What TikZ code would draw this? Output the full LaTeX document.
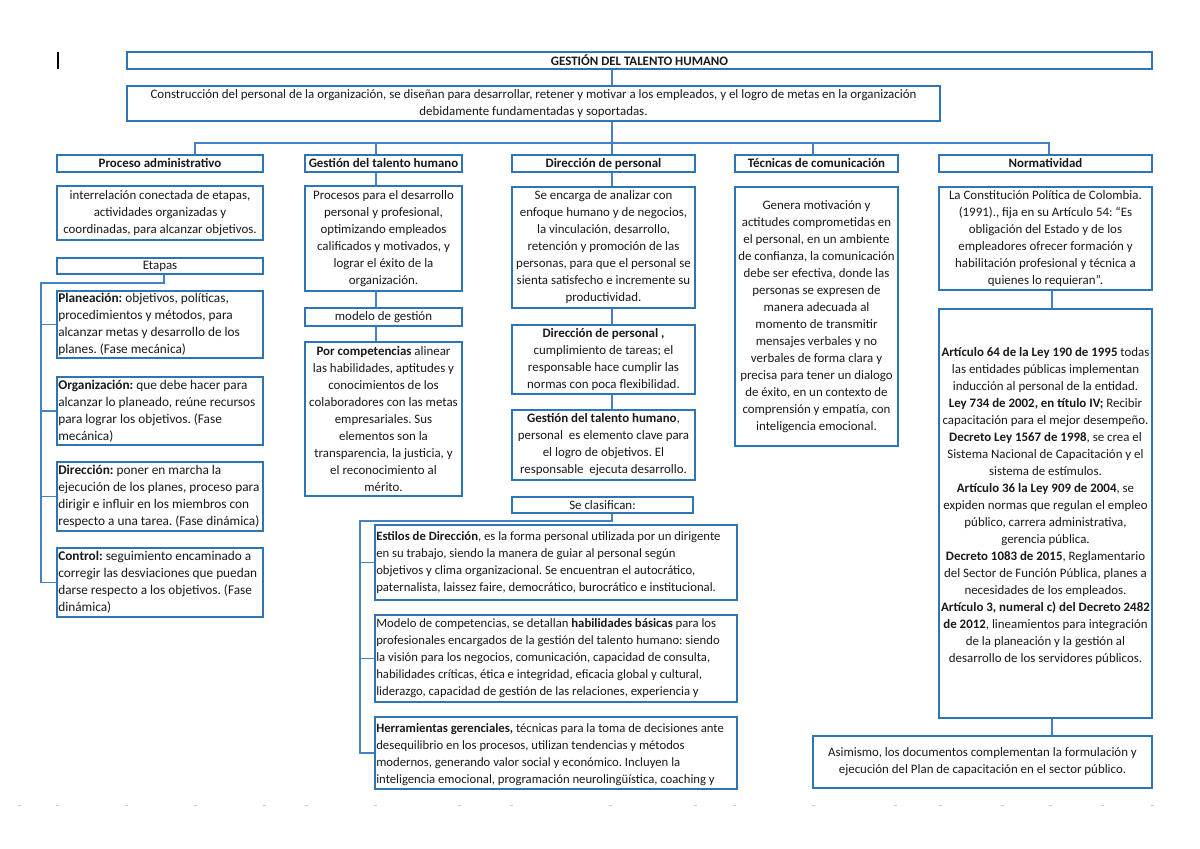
\documentclass[tikz,border=0pt]{standalone}
\usepackage{fontspec}
\setmainfont{Carlito}
\usetikzlibrary{calc}
\definecolor{boxblue}{RGB}{46,117,182}
\definecolor{linkblue}{RGB}{68,130,200}
\definecolor{txt}{RGB}{25,25,25}
\tikzset{
 bx/.style={draw=boxblue, line width=1.8pt, fill=white, text=txt, inner sep=0pt, align=center, font=\fontsize{12.9}{17}\selectfont\frenchspacing},
 tl/.style={text=txt, inner sep=0pt, align=left, anchor=west, font=\fontsize{13.3}{17}\selectfont\frenchspacing},
 tw/.style={tl, font=\fontsize{12.7}{17}\selectfont\frenchspacing},
 lk/.style={draw=linkblue, line width=1.5pt},
}
\begin{document}
\begin{tikzpicture}[x=1pt,y=-1pt]
\useasboundingbox[fill=white] (0,0) rectangle (1200,849);
% cursor mark
\draw[line width=1.6pt, black] (58,52) -- (58,69);
% junction coordinates
\coordinate (j0) at (612,143);
\coordinate (d1) at (195,143);
\coordinate (d2) at (376,143);
\coordinate (d4) at (813,143);
\coordinate (d5) at (1049,143);
\coordinate (d6) at (1052,0);
\coordinate (e1) at (164,283);
\coordinate (e2) at (41,283);
\coordinate (c1) at (612,521);
\coordinate (c2) at (360,521);
% level 0/1
\node[bx, minimum width=1025pt, minimum height=17pt] (title) at (639.5,60.5) {\textbf{GESTIÓN DEL TALENTO HUMANO}};
\node[bx, minimum width=813pt, minimum height=35pt] (sub) at (533.5,103.5) {Construcción del personal de la organización, se diseñan para desarrollar, retener y motivar a los empleados, y el logro de metas en la organización\\debidamente fundamentadas y soportadas.};
% headers
\node[bx, minimum width=206pt, minimum height=17pt] (pa) at (160,163.5) {\textbf{Proceso administrativo}};
\node[bx, minimum width=157pt, minimum height=17pt] (gth) at (383.5,163.5) {\textbf{Gestión del talento humano}};
\node[bx, minimum width=183pt, minimum height=17pt] (dp) at (603.5,163.5) {\textbf{Dirección de personal}};
\node[bx, minimum width=163pt, minimum height=17pt] (tec) at (816.5,163.5) {\textbf{Técnicas de comunicación}};
\node[bx, minimum width=213pt, minimum height=17pt] (nor) at (1045.5,163.5) {\textbf{Normatividad}};
% left column
\node[bx, minimum width=206pt, minimum height=54pt] (inter) at (160,213) {interrelación conectada de etapas,\\ actividades organizadas y\\ coordinadas, para alcanzar objetivos.};
\node[bx, minimum width=206pt, minimum height=16pt] (etapas) at (160,266) {Etapas};
\node[bx, minimum width=206pt, minimum height=67pt] (plan) at (160,324.5) {};
\node[tl] (plant) at ([xshift=2pt]plan.west) {\textbf{Planeación:} objetivos, políticas,\\ procedimientos y métodos, para\\ alcanzar metas y desarrollo de los\\ planes. (Fase mecánica)};
\node[bx, minimum width=206pt, minimum height=68pt] (org) at (160,411) {};
\node[tl] (orgt) at ([xshift=2pt]org.west) {\textbf{Organización:} que debe hacer para\\ alcanzar lo planeado, reúne recursos\\ para lograr los objetivos. (Fase\\ mecánica)};
\node[bx, minimum width=206pt, minimum height=69pt] (dir) at (160,496.5) {};
\node[tl] (dirt) at ([xshift=2pt]dir.west) {\textbf{Dirección:} poner en marcha la\\ ejecución de los planes, proceso para\\ dirigir e influir en los miembros con\\ respecto a una tarea. (Fase dinámica)};
\node[bx, minimum width=206pt, minimum height=69pt] (ctrl) at (160,582.5) {};
\node[tl] (ctrlt) at ([xshift=2pt]ctrl.west) {\textbf{Control:} seguimiento encaminado a\\ corregir las desviaciones que puedan\\ darse respecto a los objetivos. (Fase\\ dinámica)};
% column 2
\node[bx, minimum width=157pt, minimum height=105pt] (proc) at (383.5,238.5) {Procesos para el desarrollo\\ personal y profesional,\\ optimizando empleados\\ calificados y motivados, y\\ lograr el éxito de la\\ organización.};
\node[bx, minimum width=157pt, minimum height=18pt] (mod) at (383.5,317) {modelo de gestión};
\node[bx, minimum width=157pt, minimum height=154pt] (comp) at (383.5,419) {\textbf{Por competencias} alinear\\ las habilidades, aptitudes y\\ conocimientos de los\\ colaboradores con las metas\\ empresariales. Sus\\ elementos son la\\ transparencia, la justicia, y\\ el reconocimiento al\\ mérito.};
% column 3
\node[bx, minimum width=183pt, minimum height=121pt] (enc) at (603.5,247.5) {Se encarga de analizar con\\ enfoque humano y de negocios,\\ la vinculación, desarrollo,\\ retención y promoción de las\\ personas, para que el personal se\\ sienta satisfecho e incremente su\\ productividad.};
\node[bx, minimum width=183pt, minimum height=69pt] (dper) at (603.5,359.5) {\textbf{Dirección de personal ,}\\ cumplimiento de tareas; el\\ responsable hace cumplir las\\ normas con poca flexibilidad.};
\node[bx, minimum width=183pt, minimum height=70pt] (gthb) at (603.5,445) {\textbf{Gestión del talento humano},\\ personal\ \ es elemento clave para\\ el logro de objetivos. El\\ responsable\ \ ejecuta desarrollo.};
\node[bx, minimum width=181pt, minimum height=16pt] (sec) at (602.5,505) {Se clasifican:};
\node[bx, minimum width=362pt, minimum height=75pt] (est) at (556,562.5) {};
\node[tw] (estt) at ([xshift=2pt]est.west) {\textbf{Estilos de Dirección}, es la forma personal utilizada por un dirigente\\ en su trabajo, siendo la manera de guiar al personal según\\ objetivos y clima organizacional. Se encuentran el autocrático,\\ paternalista, laissez faire, democrático, burocrático e institucional.};
\node[bx, minimum width=362pt, minimum height=87pt] (mdl) at (556,658.5) {};
\node[tw] (mdlt) at ([xshift=2pt]mdl.west) {Modelo de competencias, se detallan \textbf{habilidades básicas} para los\\ profesionales encargados de la gestión del talento humano: siendo\\ la visión para los negocios, comunicación, capacidad de consulta,\\ habilidades críticas, ética e integridad, eficacia global y cultural,\\ liderazgo, capacidad de gestión de las relaciones, experiencia y};
\node[bx, minimum width=362pt, minimum height=72pt] (herr) at (556,753) {};
\node[tw] (herrt) at ([xshift=2pt,yshift=-2pt]herr.west) {\textbf{Herramientas gerenciales,} técnicas para la toma de decisiones ante\\ desequilibrio en los procesos, utilizan tendencias y métodos\\ modernos, generando valor social y económico. Incluyen la\\ inteligencia emocional, programación neurolingüística, coaching y};
% column 4
\node[bx, minimum width=163pt, minimum height=259pt] (tecb) at (816.5,316.5) {Genera motivación y\\ actitudes comprometidas en\\ el personal, en un ambiente\\ de confianza, la comunicación\\ debe ser efectiva, donde las\\ personas se expresen de\\ manera adecuada al\\ momento de transmitir\\ mensajes verbales y no\\ verbales de forma clara y\\ precisa para tener un dialogo\\ de éxito, en un contexto de\\ comprensión y empatía, con\\ inteligencia emocional.};
% column 5
\node[bx, minimum width=213pt, minimum height=103pt] (const) at (1045.5,238.5) {La Constitución Política de Colombia.\\ (1991)., fija en su Artículo 54: “Es\\ obligación del Estado y de los\\ empleadores ofrecer formación y\\ habilitación profesional y técnica a\\ quienes lo requieran".};
\node[bx, minimum width=213pt, minimum height=409pt] (big) at (1045.5,513.5) {\textbf{Artículo 64 de la Ley 190 de 1995} todas\\ las entidades públicas implementan\\ inducción al personal de la entidad.\\ \textbf{Ley 734 de 2002, en título IV;} Recibir\\ capacitación para el mejor desempeño.\\ \textbf{Decreto Ley 1567 de 1998}, se crea el\\ Sistema Nacional de Capacitación y el\\ sistema de estímulos.\\ \textbf{Artículo 36 la Ley 909 de 2004}, se\\ expiden normas que regulan el empleo\\ público, carrera administrativa,\\ gerencia pública.\\ \textbf{Decreto 1083 de 2015}, Reglamentario\\ del Sector de Función Pública, planes a\\ necesidades de los empleados.\\ \textbf{Artículo 3, numeral c) del Decreto 2482}\\ \textbf{de 2012}, lineamientos para integración\\ de la planeación y la gestión al\\ desarrollo de los servidores públicos.\\[0pt]};
\node[bx, minimum width=339pt, minimum height=52pt] (asim) at (982.5,762) {Asimismo, los documentos complementan la formulación y\\ ejecución del Plan de capacitación en el sector público.};
% connectors
\draw[lk] (j0 |- title.south) -- (j0 |- sub.north);
\draw[lk] (j0 |- sub.south) -- (j0);
\draw[lk] (d1 |- pa.north) -- (d1) -- (d5) -- (d5 |- nor.north);
\draw[lk] (d2) -- (d2 |- gth.north);
\draw[lk] (j0) -- (j0 |- dp.north);
\draw[lk] (d4) -- (d4 |- tec.north);
\draw[lk] (d2 |- gth.south) -- (d2 |- proc.north);
\draw[lk] (d2 |- proc.south) -- (d2 |- mod.north);
\draw[lk] (d2 |- mod.south) -- (d2 |- comp.north);
\draw[lk] (j0 |- dp.south) -- (j0 |- enc.north);
\draw[lk] (j0 |- enc.south) -- (j0 |- dper.north);
\draw[lk] (j0 |- dper.south) -- (j0 |- gthb.north);
\draw[lk] (e1 |- etapas.south) -- (e1) -- (e2) -- (e2 |- ctrl.west) -- (ctrl.west);
\draw[lk] (e2 |- plan.west) -- (plan.west);
\draw[lk] (e2 |- org.west) -- (org.west);
\draw[lk] (e2 |- dir.west) -- (dir.west);
\draw[lk] (c1 |- sec.south) -- (c1) -- (c2) -- (c2 |- herr.west) -- (herr.west);
\draw[lk] (c2 |- est.west) -- (est.west);
\draw[lk] (c2 |- mdl.west) -- (mdl.west);
\draw[lk] (d6 |- const.south) -- (d6 |- big.north);
\draw[lk] (d6 |- big.south) -- (d6 |- asim.north);
% page-edge marks
\foreach \px in {19,57,126,195,264,306,375,459,511,610,695,734,813,895,940,1002,1050,1102,1152}
  \draw[gray!40, line width=1pt] (\px-1.5,805) -- (\px+1.5,805);
\end{tikzpicture}
\end{document}
